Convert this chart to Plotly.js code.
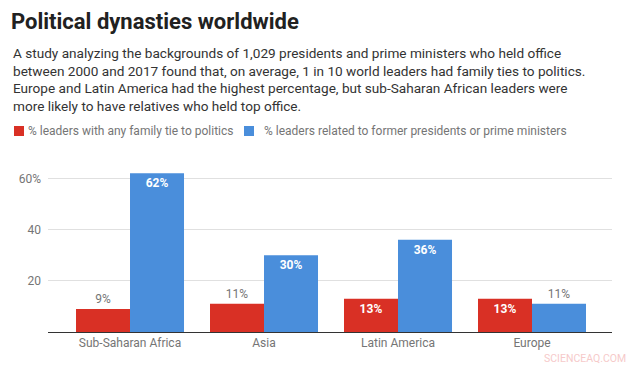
<!DOCTYPE html>
<html>
<head>
<meta charset="utf-8">
<script src="https://cdn.plot.ly/plotly-3.0.1.min.js"></script>
<style>html,body{margin:0;padding:0;background:#fff;}#chart{width:643px;height:368px;}</style>
</head>
<body>
<div id="chart"></div>
<script>
const categories = ["Sub-Saharan Africa", "Asia", "Latin America", "Europe"];
const anyTieValues = [9, 11, 13, 13];
const formerLeaderValues = [62, 30, 36, 11];
const seriesNames = ["% leaders with any family tie to politics", "% leaders related to former presidents or prime ministers"];
const seriesColors = ["#d93025", "#4a8edb"];
const yTickValues = [20, 40, 60];
const yTickLabels = ["20", "40", "60%"];
const anyTiePositions = ["outside", "outside", "inside", "inside"];
const formerPositions = ["inside", "inside", "inside", "outside"];

// pixel helpers for layout decorations (plot area: x 48..612, y 163..332)
const PL = 48, PW = 564, PB = 332, PH = 169;
const px = v => (v - PL) / PW;
const py = v => (PB - v) / PH;

const fmt = v => v + "%";
function barTrace(i, vals, pos) {
  return {
    type: "bar", name: seriesNames[i], x: categories, y: vals,
    marker: {color: seriesColors[i]},
    text: vals.map(fmt), textposition: pos,
    insidetextanchor: "end", cliponaxis: false, textangle: 0,
    insidetextfont: {family: "Roboto", size: 12, color: "#ffffff", weight: "bold"},
    outsidetextfont: {family: "Roboto", size: 12, color: "#757575"},
    hoverinfo: "none", showlegend: false
  };
}
const traces = [barTrace(0, anyTieValues, anyTiePositions), barTrace(1, formerLeaderValues, formerPositions)];

// legend drawn as layout decorations
const legendItems = [{sq: 14, tx: 26}, {sq: 244, tx: 262}];
const shapes = legendItems.map((it, i) => ({
  type: "rect", xref: "paper", yref: "paper",
  x0: px(it.sq), x1: px(it.sq + 10), y0: py(136), y1: py(126),
  fillcolor: seriesColors[i], line: {width: 0}
}));
const legendAnns = legendItems.map((it, i) => ({
  text: seriesNames[i], xref: "paper", yref: "paper", x: px(it.tx), y: py(131),
  xanchor: "left", yanchor: "middle", showarrow: false,
  font: {family: "Roboto", size: 12, color: "#757575"}
}));

const layout = {
  width: 643, height: 368,
  margin: {l: PL, r: 643 - PL - PW, t: PB - PH, b: 368 - PB, autoexpand: false},
  paper_bgcolor: "#fff", plot_bgcolor: "#fff",
  font: {family: "Roboto", color: "#757575", size: 12},
  barmode: "group", bargap: 0.194, bargroupgap: 0,
  showlegend: false,
  title: {text: "Political dynasties worldwide", x: 11/643, xanchor: "left", xref: "container",
          y: 1 - 21/368, yanchor: "middle", yref: "container",
          font: {family: "Roboto", size: 22, color: "#212121", weight: "bold"}},
  xaxis: {range: [-0.612, 3.597], showgrid: false, showline: true, linecolor: "#333", linewidth: 1,
          ticks: "", tickfont: {family: "Roboto", size: 12, color: "#757575"}, fixedrange: true, automargin: false},
  yaxis: {range: [0, 66], tickvals: yTickValues, ticktext: yTickLabels, showgrid: true,
          gridcolor: "#e0e0e0", zeroline: false, ticks: "", ticklen: 0, ticklabelstandoff: 6,
          tickfont: {family: "Roboto", size: 12, color: "#757575"}, fixedrange: true, automargin: false},
  shapes: shapes,
  annotations: [
    {text: "A study analyzing the backgrounds of 1,029 presidents and prime ministers who held office<br>between 2000 and 2017 found that, on average, 1 in 10 world leaders had family ties to politics.<br>Europe and Latin America had the highest percentage, but sub-Saharan African leaders were<br>more likely to have relatives who held top office.",
     xref: "paper", yref: "paper", x: px(11), y: py(43), xanchor: "left", yanchor: "top",
     align: "left", showarrow: false, font: {family: "Roboto", size: 13.6, color: "#333"}},
    {text: "SCIENCEAQ.COM", xref: "paper", yref: "paper", x: px(628), y: py(358),
     xanchor: "right", yanchor: "middle", showarrow: false,
     font: {family: "Roboto", size: 10.5, color: "#f6caca"}}
  ].concat(legendAnns)
};

Plotly.newPlot("chart", traces, layout, {displayModeBar: false, staticPlot: true});
</script>
</body>
</html>
